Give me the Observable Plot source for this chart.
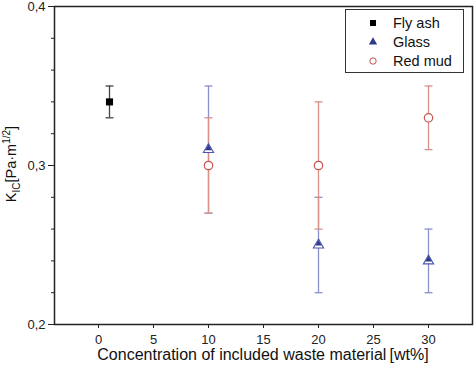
<!DOCTYPE html>
<html><head><meta charset="utf-8">
<script src="https://cdn.jsdelivr.net/npm/d3@7"></script>
<script src="https://cdn.jsdelivr.net/npm/@observablehq/plot@0.6"></script>
<style>
body{margin:0;background:#fff;}
#chart{font-family:"Liberation Sans",Arial,sans-serif;}
</style></head>
<body><div id="chart"></div>
<script>
// Data
const series = ["Fly ash", "Glass", "Red mud"];
const flyAshX = [1];
const flyAshY = [0.34];
const flyAshErr = [0.01];
const glassX = [10, 20, 30];
const glassY = [0.31, 0.25, 0.24];
const glassErr = [0.04, 0.03, 0.02];
const redMudX = [10, 20, 30];
const redMudY = [0.30, 0.30, 0.33];
const redMudErr = [0.03, 0.04, 0.02];
const xTicks = [0, 5, 10, 15, 20, 25, 30];
const yMajorTicks = [0.2, 0.3, 0.4];
const yMinorTicks = [0.22, 0.24, 0.26, 0.28, 0.32, 0.34, 0.36, 0.38];

const mk = (s, xs, ys, es) => xs.map((x, i) => ({series: s, x, y: ys[i], lo: ys[i] - es[i], hi: ys[i] + es[i]}));
const fly = mk("Fly ash", flyAshX, flyAshY, flyAshErr);
const glass = mk("Glass", glassX, glassY, glassErr);
const red = mk("Red mud", redMudX, redMudY, redMudErr);

const capW = 0.36;
const errMarks = (data, color) => [
  Plot.ruleX(data, {x: "x", y1: "lo", y2: "hi", stroke: color, strokeWidth: 1.3}),
  Plot.link(data, {x1: d => d.x - capW, x2: d => d.x + capW, y1: "hi", y2: "hi", stroke: color, strokeWidth: 1.3}),
  Plot.link(data, {x1: d => d.x - capW, x2: d => d.x + capW, y1: "lo", y2: "lo", stroke: color, strokeWidth: 1.3})
];

const blueBar = "#8b8fcc", blueMark = "#2e3a8c", redBar = "#d99089", redMark = "#c8534e";
const FONT = '"Liberation Sans", Arial, sans-serif';

const plot = Plot.plot({
  width: 474, height: 369,
  marginLeft: 54, marginRight: 2, marginTop: 6, marginBottom: 45,
  style: {fontFamily: FONT, fontSize: "12px", color: "#222"},
  x: {domain: [-4, 34]},
  y: {domain: [0.2, 0.4]},
  marks: [
    Plot.frame({stroke: "#222", strokeWidth: 1.5}),
    Plot.axisY(yMinorTicks, {tickSize: 3, tickFormat: () => "", label: null, stroke: "#222"}),
    Plot.axisY(yMajorTicks, {tickSize: 6, tickPadding: 3, tickFormat: d => d3.format(".1f")(d).replace(".", ","), label: null, fontSize: 13, stroke: "#222"}),
    Plot.axisX(xTicks, {tickSize: 4, tickPadding: 6, label: null, fontSize: 13, stroke: "#222"}),
    ...errMarks(fly, "#444"),
    ...errMarks(glass, blueBar),
    ...errMarks(red, redBar),
    Plot.dot(fly, {x: "x", y: "y", symbol: "square", r: 4, fill: "#000"}),
    Plot.dot(glass, {x: "x", y: "y", symbol: "triangle", r: 3.8, fill: "#fff", stroke: "#4a57b0", strokeWidth: 1.1}),
    Plot.dot(glass, {x: "x", y: "y", symbol: "triangle", r: 2.4, fill: blueMark, dy: -1.3}),
    Plot.dot(red, {x: "x", y: "y", symbol: "circle", r: 4.2, fill: "#fff", stroke: redMark, strokeWidth: 1.2})
  ]
});

const svg = d3.select(plot);
// Legend inside plot area
const lg = svg.append("g").attr("font-family", FONT).attr("text-anchor", "start");
lg.append("rect").attr("x", 345.5).attr("y", 9.5).attr("width", 118).attr("height", 63)
  .attr("fill", "#fff").attr("stroke", "#333").attr("stroke-width", 1);
const legendRows = [
  {label: series[0], draw: g => g.append("rect").attr("x", -3).attr("y", -3).attr("width", 6).attr("height", 6).attr("fill", "#000")},
  {label: series[1], draw: g => { g.append("path").attr("d", d3.symbol(d3.symbolTriangle, 30)()).attr("fill", blueMark); }},
  {label: series[2], draw: g => g.append("circle").attr("r", 3.2).attr("fill", "#fff").attr("stroke", redMark).attr("stroke-width", 1)}
];
legendRows.forEach((r, i) => {
  const y = 23 + i * 19;
  const g = lg.append("g").attr("transform", `translate(373,${y})`);
  r.draw(g);
  lg.append("text").attr("x", 393).attr("y", y).attr("dy", "0.36em").attr("font-size", 14.5).attr("fill", "#111").text(r.label);
});
// Axis titles
svg.append("text").attr("x", 263).attr("y", 360).attr("text-anchor", "middle")
  .attr("font-size", 16).attr("fill", "#111").attr("font-family", FONT)
  .text("Concentration of included waste material\u2009[wt%]");
const yl = svg.append("text").attr("transform", "translate(16,164) rotate(-90)").attr("text-anchor", "middle")
  .attr("font-size", 14.5).attr("fill", "#111").attr("font-family", FONT);
yl.append("tspan").text("K");
yl.append("tspan").attr("font-size", 10).attr("dy", 4).text("IC");
yl.append("tspan").attr("dy", -4).text("[Pa\u00b7m");
yl.append("tspan").attr("font-size", 10).attr("dy", -6).text("1/2");
yl.append("tspan").attr("dy", 6).text("]");

document.getElementById("chart").appendChild(plot);
</script>
</body></html>
